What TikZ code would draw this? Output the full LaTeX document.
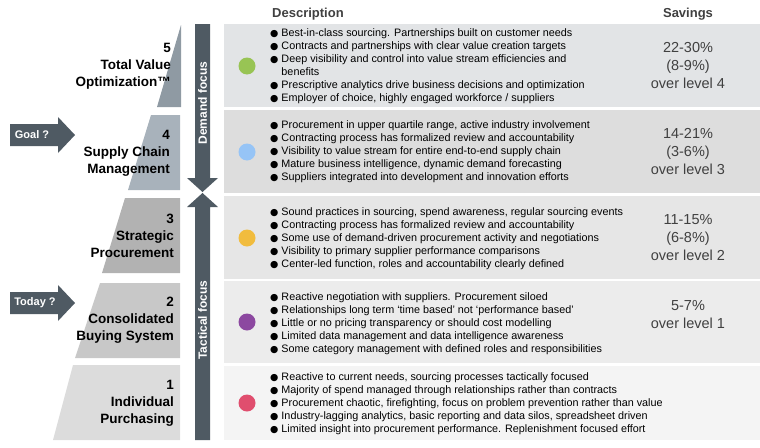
\documentclass[tikz,border=0pt]{standalone}
\usepackage{fontspec}
\setmainfont{Liberation Sans}
\newfontfamily\dvs{DejaVu Sans}
\definecolor{arr}{HTML}{4F5A63}
\newcommand{\bl}{{\dvs\fontsize{9.5}{13}\selectfont ●}\ }
\begin{document}
\begin{tikzpicture}[x=1pt,y=-1pt,
  desc/.style={anchor=west,align=left,font=\fontsize{10.8}{13}\selectfont,inner sep=0},
  sav/.style={align=center,font=\fontsize{14.5}{18}\selectfont,text=black!75},
  lvl/.style={anchor=east,align=right,font=\bfseries\fontsize{13.5}{17}\selectfont,inner sep=0},
  dot/.style={circle,minimum size=17,inner sep=0},
  tagtext/.style={text=white,font=\bfseries\fontsize{11}{13}\selectfont,inner sep=0}]
\useasboundingbox (0,0) rectangle (760,447);
% left shapes
\fill[fill={rgb,255:red,143;green,154;blue,163}] (181,25)--(181,107)--(157,107)--cycle;
\fill[fill={rgb,255:red,168;green,178;blue,187}] (151,115)--(180,115)--(180,190)--(128,190)--cycle;
\fill[fill={rgb,255:red,178;green,178;blue,178}] (125,198)--(180,198)--(180,273)--(102,273)--cycle;
\fill[fill={rgb,255:red,200;green,200;blue,200}] (100,283)--(180,283)--(180,358)--(75,358)--cycle;
\fill[fill={rgb,255:red,220;green,220;blue,220}] (73,365)--(180,365)--(180,440)--(53,440)--cycle;
\node[lvl] (l5) at (171,66) {5\\Total Value\\Optimization™};
\node[lvl] (l4) at (170,153) {4\\Supply Chain\\Management};
\node[lvl] (l3) at (174,236) {3\\Strategic\\Procurement};
\node[lvl] (l2) at (174,320) {2\\Consolidated\\Buying System};
\node[lvl] (l1) at (174,403) {1\\Individual\\Purchasing};
% tag arrows
\fill[arr] (10,124)--(58,124)--(58,117)--(75,135)--(58,153)--(58,146)--(10,146)--cycle;
\node[tagtext] (goal) at (32,135) {Goal ?};
\fill[arr] (10,292)--(58,292)--(58,285)--(75,303)--(58,321)--(58,314)--(10,314)--cycle;
\node[tagtext] (today) at (35,303) {Today ?};
% focus arrows
\fill[arr] (195,24)--(210,24)--(210,178)--(218,178)--(202.5,192)--(187,178)--(195,178)--cycle;
\fill[arr] (195,440)--(210,440)--(210,207)--(218,207)--(202.5,193)--(187,207)--(195,207)--cycle;
\node[rotate=90,text=white,font=\bfseries\fontsize{12}{14}\selectfont] (df) at (202.5,103) {Demand focus};
\node[rotate=90,text=white,font=\bfseries\fontsize{12}{14}\selectfont] (tf) at (202.5,320) {Tactical focus};
% headers
\node[anchor=west,font=\bfseries\fontsize{13}{15}\selectfont,text=black!75,inner sep=0] (hd) at (272,14) {Description};
\node[font=\bfseries\fontsize{13}{15}\selectfont,text=black!75,inner sep=0] (hs) at (688,14) {Savings};
% rows
\fill[fill={rgb,255:red,226;green,228;blue,230}] (224,24) rectangle (760,107);
\fill[fill={rgb,255:red,221;green,221;blue,221}] (224,110) rectangle (760,193);
\fill[fill={rgb,255:red,230;green,230;blue,230}] (224,196) rectangle (760,279);
\fill[fill={rgb,255:red,236;green,236;blue,236}] (224,281) rectangle (760,363);
\fill[fill={rgb,255:red,244;green,244;blue,244}] (224,366) rectangle (760,440);
\node[dot,fill={rgb,255:red,152;green,196;blue,84}] (c5) at (247,66) {};
\node[dot,fill={rgb,255:red,150;green,196;blue,246}] (c4) at (247,152) {};
\node[dot,fill={rgb,255:red,241;green,188;blue,62}] (c3) at (247,238) {};
\node[dot,fill={rgb,255:red,140;green,72;blue,160}] (c2) at (247,322) {};
\node[dot,fill={rgb,255:red,224;green,78;blue,110}] (c1) at (247,403) {};
\node[desc] (d5) at (270,66) {\bl Best-in-class sourcing. Partnerships built on customer needs\\
\bl Contracts and partnerships with clear value creation targets\\
\bl Deep visibility and control into value stream efficiencies and\\
\phantom{\bl}benefits\\
\bl Prescriptive analytics drive business decisions and optimization\\
\bl Employer of choice, highly engaged workforce / suppliers};
\node[desc] (d4) at (270,152) {\bl Procurement in upper quartile range, active industry involvement\\
\bl Contracting process has formalized review and accountability\\
\bl Visibility to value stream for entire end-to-end supply chain\\
\bl Mature business intelligence, dynamic demand forecasting\\
\bl Suppliers integrated into development and innovation efforts};
\node[desc] (d3) at (270,239) {\bl Sound practices in sourcing, spend awareness, regular sourcing events\\
\bl Contracting process has formalized review and accountability\\
\bl Some use of demand-driven procurement activity and negotiations\\
\bl Visibility to primary supplier performance comparisons\\
\bl Center-led function, roles and accountability clearly defined};
\node[desc] (d2) at (270,324) {\bl Reactive negotiation with suppliers. Procurement siloed\\
\bl Relationships long term `time based' not `performance based'\\
\bl Little or no pricing transparency or should cost modelling\\
\bl Limited data management and data intelligence awareness\\
\bl Some category management with defined roles and responsibilities};
\node[desc] (d1) at (270,404) {\bl Reactive to current needs, sourcing processes tactically focused\\
\bl Majority of spend managed through relationships rather than contracts\\
\bl Procurement chaotic, firefighting, focus on problem prevention rather than value\\
\bl Industry-lagging analytics, basic reporting and data silos, spreadsheet driven\\
\bl Limited insight into procurement performance. Replenishment focused effort};
\node[sav] (s5) at (688,66) {22-30\%\\(8-9\%)\\over level 4};
\node[sav] (s4) at (688,152) {14-21\%\\(3-6\%)\\over level 3};
\node[sav] (s3) at (688,238) {11-15\%\\(6-8\%)\\over level 2};
\node[sav] (s2) at (688,315) {5-7\%\\over level 1};
\end{tikzpicture}
\end{document}
